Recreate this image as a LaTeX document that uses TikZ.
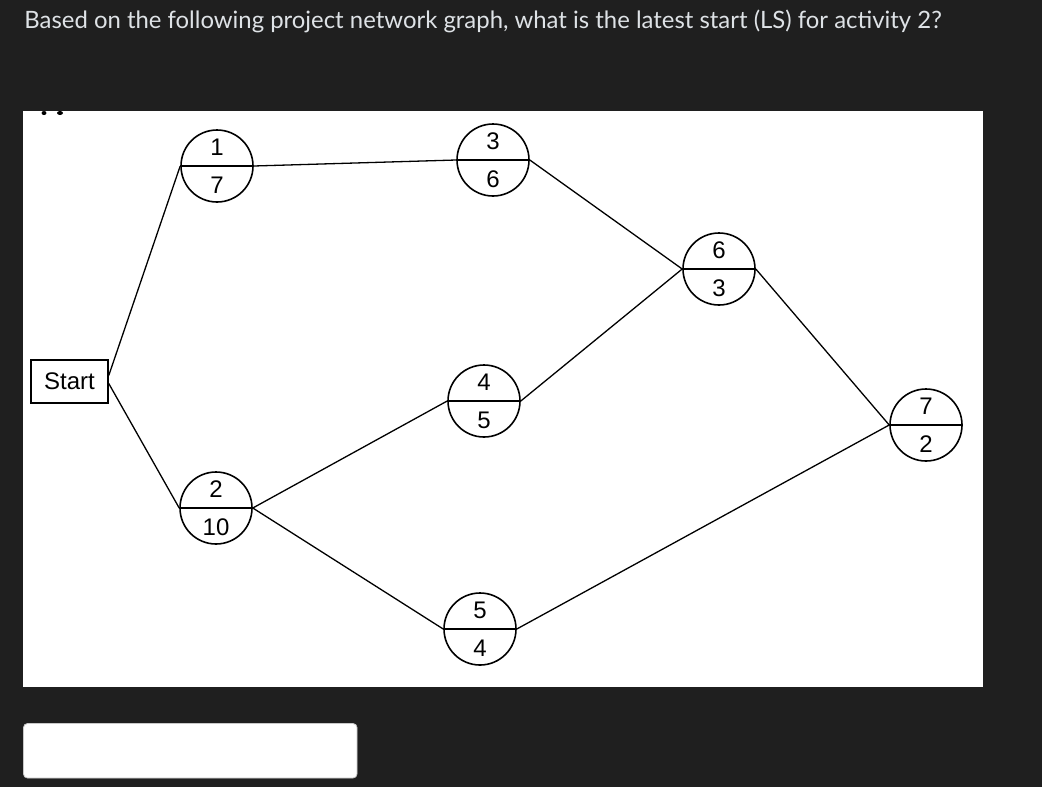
\documentclass[tikz,border=0pt]{standalone}
\usepackage{fontspec}
\setmainfont{Liberation Sans}
\newfontfamily\latofont{Lato}
\definecolor{bgdark}{RGB}{31,31,31}
\definecolor{titlecol}{RGB}{222,226,230}
\definecolor{boxborder}{RGB}{200,200,200}
\tikzset{
  act/.style={draw=black, line width=0.8pt, circle, minimum size=36pt, inner sep=0pt},
  lbl/.style={font=\fontsize{12pt}{13pt}\selectfont, inner sep=0pt},
  conn/.style={draw=black, line width=0.65pt},
  startbox/.style={draw=black, line width=0.75pt, minimum width=38.5pt, minimum height=21.5pt, inner sep=0pt, font=\fontsize{12pt}{13pt}\selectfont}
}
\begin{document}
\begin{tikzpicture}[x=0.5pt, y=-0.5pt]
\fill[bgdark] (0,0) rectangle (1042,787);
\useasboundingbox (0,0) rectangle (1042,787);
% title
\node[anchor=base west, inner sep=0pt, text=titlecol, font=\latofont\fontsize{11.95pt}{14pt}\selectfont] (title) at (24,28) {Based on the following project network graph, what is the latest start (LS) for activity 2?};
% panel
\fill[white] (23,111) rectangle (983,687);
\fill[black] (44,113) ellipse (2.5 and 2);
\fill[black] (60,113) ellipse (3 and 2);
% answer box
\draw[boxborder, fill=white, line width=0.4pt, rounded corners=2pt] (23.5,723.5) rectangle (357,778);
% nodes
\node[startbox] (start) at (69.5,381.5) {Start};
\node[act] (a1) at (217,166) {};
\node[act] (a3) at (493,160) {};
\node[act] (a6) at (719,269) {};
\node[act] (a4) at (484,401) {};
\node[act] (a2) at (216,508) {};
\node[act] (a5) at (480,629) {};
\node[act] (a7) at (926,425) {};
\foreach \n/\t/\b in {a1/1/7, a3/3/6, a6/6/3, a4/4/5, a2/2/10, a5/5/4, a7/7/2}{
  \draw[line width=0.85pt] (\n.west) -- (\n.east);
  \node[lbl] (\n t) at ([yshift=9.5pt]\n.center) {\t};
  \node[lbl] (\n b) at ([yshift=-9.5pt]\n.center) {\b};
}
% connectors
\draw[conn] ([yshift=3pt]start.east) -- (a1.west);
\draw[conn] ([yshift=-1pt]start.east) -- (a2.west);
\draw[conn] (a1.east) -- (a3.west);
\draw[conn] (a3.east) -- (a6.west);
\draw[conn] (a2.east) -- (a4.west);
\draw[conn] (a2.east) -- (a5.west);
\draw[conn] (a4.east) -- (a6.west);
\draw[conn] (a6.east) -- (a7.west);
\draw[conn] (a5.east) -- (a7.west);
\end{tikzpicture}
\end{document}
